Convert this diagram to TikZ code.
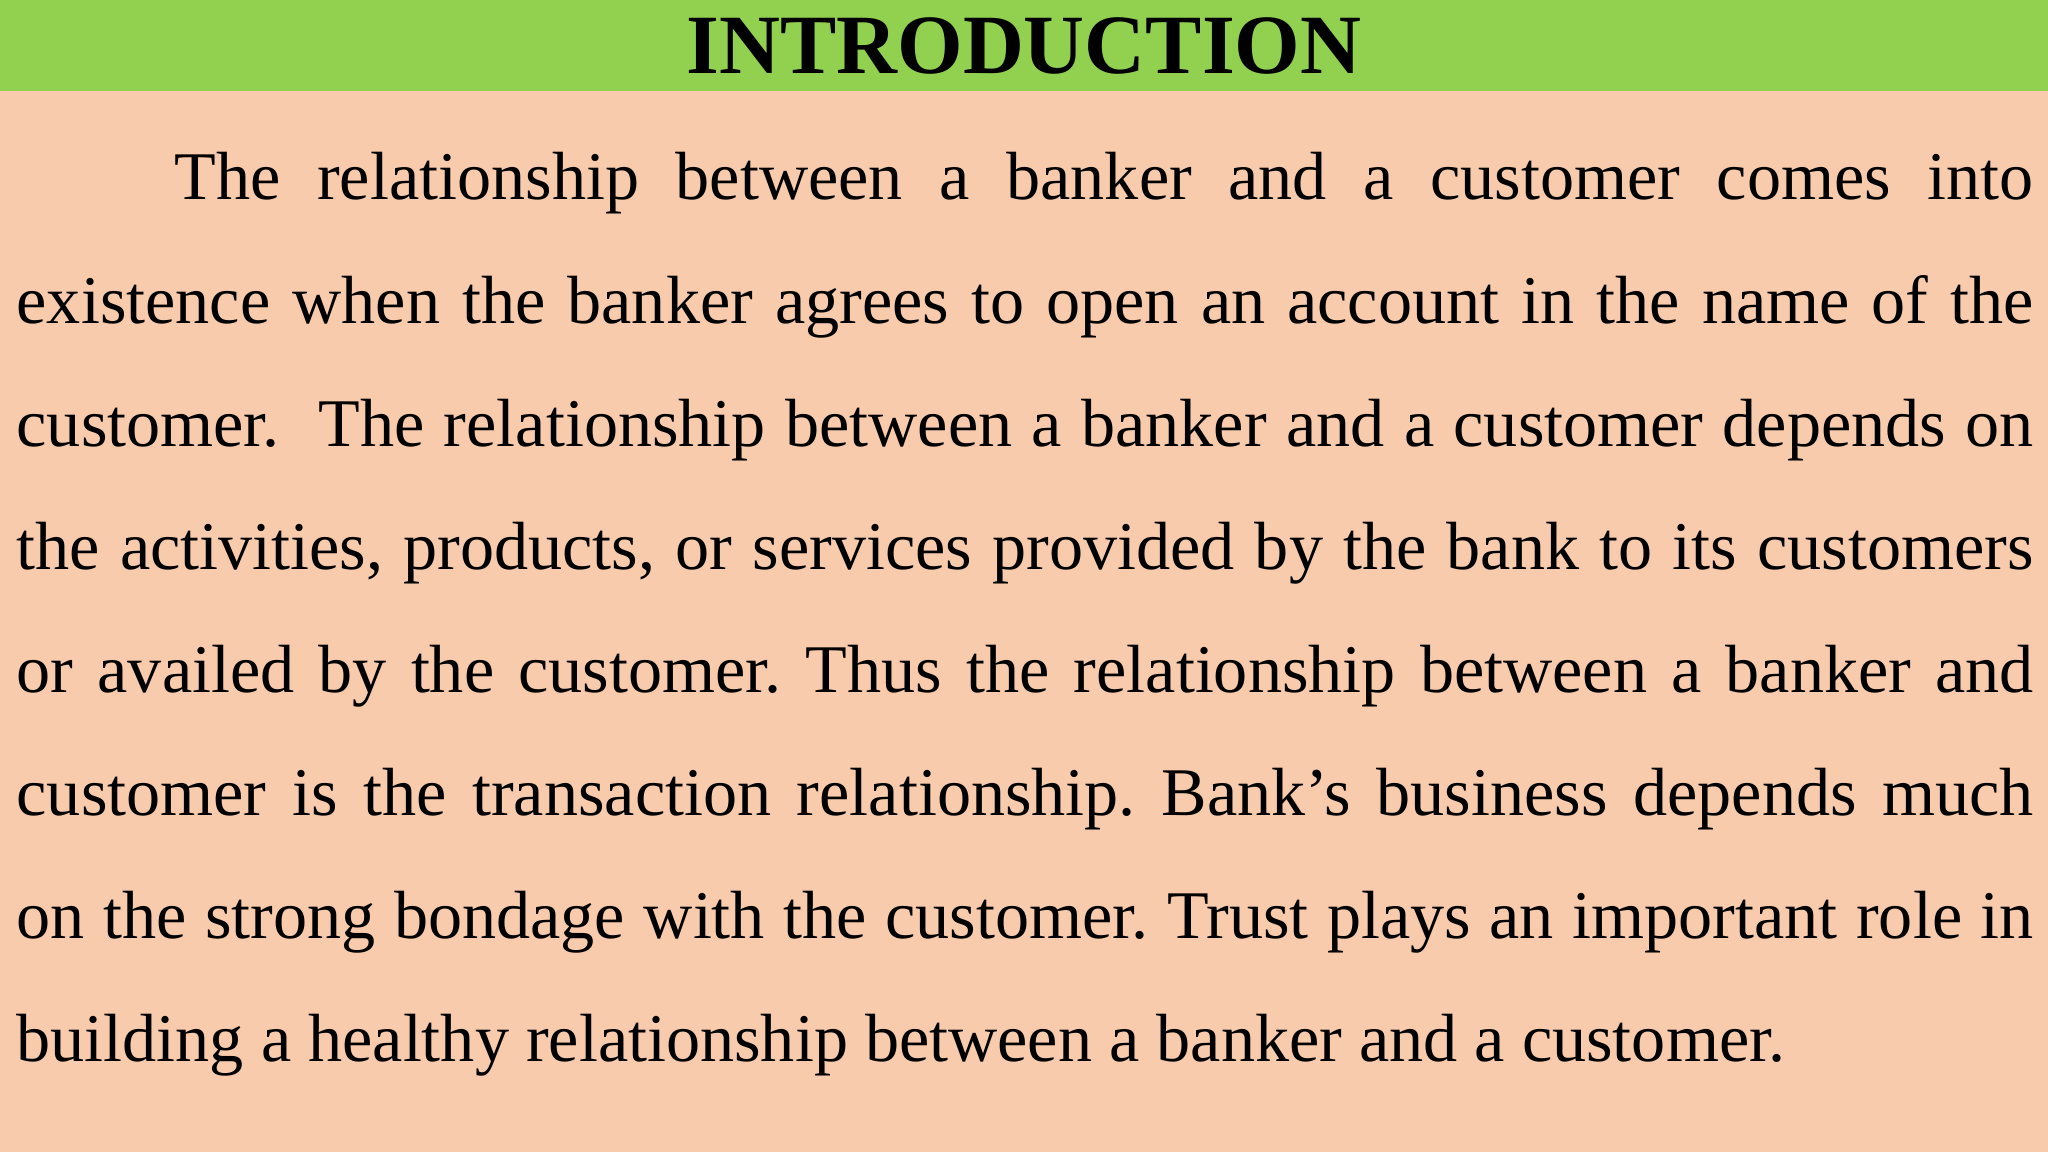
\documentclass[tikz,border=0pt]{standalone}
\usepackage{fontspec}
\setmainfont{Liberation Serif}
\definecolor{bargreen}{HTML}{92D050}
\definecolor{peach}{HTML}{F8CBAD}
\begin{document}
\begin{tikzpicture}[x=1cm,y=1cm]
\useasboundingbox (0,0) rectangle (20.48,11.52);
\fill[peach] (0,0) rectangle (20.48,11.52);
\fill[bargreen] (0,10.61) rectangle (20.48,11.52);
\node[anchor=base,font=\fontsize{24}{28}\selectfont\bfseries] (title) at (10.24,10.78) {INTRODUCTION};
\node[anchor=north west,inner sep=0pt,text width=20.17cm,align=justify,font=\fontsize{19.4}{35}\selectfont] (body) at (0.16,10.0) {\frenchspacing\hspace*{1.58cm}The relationship between a banker and a customer comes into\linebreak
existence when the banker agrees to open an account in the name of the\linebreak
customer.\ \ The relationship between a banker and a customer depends on\linebreak
the activities, products, or services provided by the bank to its customers\linebreak
or availed by the customer. Thus the relationship between a banker and\linebreak
customer is the transaction relationship. Bank’s business depends much\linebreak
on the strong bondage with the customer. Trust plays an important role in\linebreak
building a healthy relationship between a banker and a customer.};
\end{tikzpicture}
\end{document}
